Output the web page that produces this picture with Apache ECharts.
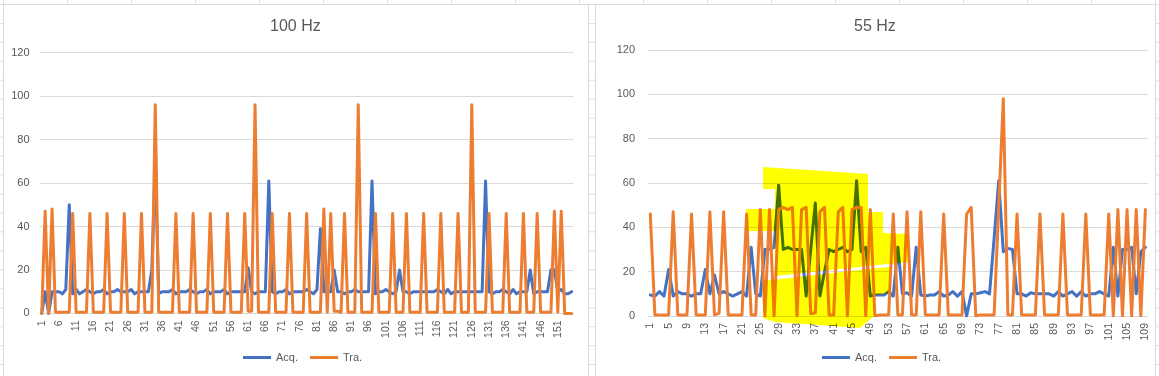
<!DOCTYPE html>
<html><head><meta charset="utf-8">
<script src="https://cdn.jsdelivr.net/npm/echarts@6/dist/echarts.min.js"></script>
<style>html,body{margin:0;padding:0;background:#fff}#c{width:1159px;height:376px}</style>
</head><body><div id="c"></div>
<script>
// ---------- DATA ----------
const leftTitle = '100 Hz';
const rightTitle = '55 Hz';
const seriesNames = ['Acq.', 'Tra.'];
const yTickValues = [0, 20, 40, 60, 80, 100, 120];

const leftAcq = [
  0, 10, 0, 10, 10, 10, 9, 11, 50, 9,
  11, 9, 10, 11, 10, 9, 10, 10, 11, 9,
  10, 10, 11, 10, 10, 10, 11, 9, 10, 10,
  10, 10, 20, 70, 9, 10, 10, 10, 11, 9,
  10, 10, 10, 11, 10, 9, 10, 10, 11, 9,
  10, 10, 10, 11, 9, 10, 10, 10, 10, 10,
  21, 10, 9, 10, 10, 10, 61, 10, 9, 10,
  10, 11, 9, 10, 10, 10, 10, 11, 10, 9,
  11, 39, 10, 10, 10, 20, 10, 10, 9, 10,
  10, 11, 10, 10, 10, 10, 61, 9, 10, 10,
  11, 10, 9, 10, 20, 10, 10, 9, 10, 10,
  10, 10, 10, 10, 10, 11, 10, 9, 11, 9,
  10, 10, 10, 10, 10, 10, 10, 10, 10, 61,
  10, 9, 10, 10, 11, 10, 9, 11, 9, 10,
  10, 10, 20, 9, 10, 10, 10, 10, 20, 20,
  10, 11, 9, 9, 10
];
const leftTra = [
  0, 47, 0, 48, 0.5, 0.5, 0.5, 0.5, 0.5, 46,
  0.5, 0.5, 0.5, 0.5, 46, 0.5, 0.5, 0.5, 0.5, 46,
  0.5, 0.5, 0.5, 0.5, 46, 0.5, 0.5, 0.5, 0.5, 46,
  0.5, 0.5, 0.5, 96, 0.5, 0.5, 0.5, 0.5, 0.5, 46,
  0.5, 0.5, 0.5, 0.5, 46, 0.5, 0.5, 0.5, 0.5, 46,
  0.5, 0.5, 0.5, 0.5, 46, 0.5, 0.5, 0.5, 0.5, 46,
  1, 1, 96, 0.5, 0.5, 0.5, 0.5, 46, 0.5, 0.5,
  0.5, 0.5, 46, 0.5, 0.5, 0.5, 0.5, 46, 0.5, 0.5,
  0.5, 0.5, 48, 0.5, 46, 1, 1, 0.5, 46, 0.5,
  0.5, 0.5, 96, 0.5, 0.5, 0.5, 0.5, 46, 0.5, 0.5,
  0.5, 0.5, 46, 0.5, 0.5, 0.5, 46, 0.5, 0.5, 0.5,
  0.5, 46, 0.5, 0.5, 0.5, 0.5, 46, 0.5, 0.5, 0.5,
  0.5, 46, 0.5, 0.5, 0.5, 96, 0.5, 0.5, 0.5, 0.5,
  46, 0.5, 0.5, 0.5, 0.5, 46, 0.5, 0.5, 0.5, 0.5,
  46, 0.5, 0.5, 0.5, 46, 0.5, 0.5, 0.5, 0.5, 47,
  0.5, 47, 0, 0, 0
];
const rightAcq = [
  9.5, 9, 11, 9, 21, 9, 11, 10, 10, 9,
  10, 10, 21, 10, 18.5, 10, 11, 10, 9, 10,
  11, 9, 31, 10, 9, 30, 30, 31, 59, 30,
  31, 30, 30, 30, 9, 30, 51, 9, 20, 30,
  29, 30, 31, 29, 30, 61, 29, 31, 9, 9.5,
  9.5, 9.5, 11, 9, 31, 10, 10.5, 9, 31, 9.5,
  9, 9.5, 9.5, 11, 9, 9.5, 11, 9, 11, 0,
  10, 10, 10.5, 11, 10, 35, 61, 29, 30.5, 30,
  10, 10, 9, 10.5, 10, 10, 10, 10, 9, 11,
  9, 10, 11, 9, 11, 9, 10, 10, 11, 10,
  9, 31, 9, 30, 30, 31, 10, 29, 31
];
const rightTra = [
  46, 0.5, 0.5, 0.5, 0.5, 47, 0.5, 0.5, 0.5, 46,
  0.5, 0.5, 0.5, 47, 0.5, 1.2, 47, 0.5, 0.5, 0.5,
  0.5, 46, 0.5, 0.5, 48, 0, 48, 0, 48, 49,
  48, 49, 0, 48, 49, 1, 1.5, 47, 49, 0.5,
  0.5, 47, 49, 0, 48, 49, 49, 0, 48, 0,
  0.5, 0.5, 0.5, 46, 0.5, 0.5, 47, 0.5, 0.5, 47,
  0.5, 0.5, 0.5, 0.5, 46, 0.5, 0.5, 0.5, 0.5, 46,
  49, 0, 0.5, 0.5, 0.5, 0.5, 49, 98, 0.5, 0.5,
  46, 0.5, 0.5, 0.5, 0.5, 46, 0.5, 0.5, 0.5, 0.5,
  46, 0.5, 0.5, 0.5, 0.5, 46, 0.5, 0.5, 0.5, 0.5,
  46, 0, 48, 0, 48, 0, 48, 0, 48
];
// category labels are the row numbers 1..N
const leftCats = leftAcq.map((_, i) => String(i + 1));
const rightCats = rightAcq.map((_, i) => String(i + 1));

// ---------- STYLE / LAYOUT ----------
const FONT = 'Liberation Sans';
const TXT = '#595959';
const GRIDC = '#d9d9d9';
const BLUE = '#4472C4';
const ORANGE = '#ED7D31';

// hand-drawn yellow highlighter strokes on the right chart (pixel shapes)
const highlightShapes = [
  [[763,167],[868,174],[868,212],[883,212],[883,233],[908,234],[908,262],[868,266],[775,276],[775,189],[763,189]],
  [[746,209],[775,209],[775,231],[746,231]],
  [[763,281],[868,269],[890,267],[890,293],[874,295],[874,316],[860,328],[775,322],[763,318]]
];

const chart = echarts.init(document.getElementById('c'), null, {renderer: 'canvas'});

function xAxisCfg(gi, cats, interval) {
  return {
    type: 'category', gridIndex: gi, data: cats, boundaryGap: true,
    axisLine: {show: true, lineStyle: {color: GRIDC, width: 1}},
    axisTick: {show: false},
    axisLabel: {interval: interval, rotate: 90, margin: 7, color: TXT, fontSize: 10.5, fontFamily: FONT},
    splitLine: {show: false}
  };
}
function yAxisCfg(gi, margin) {
  return {
    type: 'value', gridIndex: gi, min: yTickValues[0], max: yTickValues[yTickValues.length - 1],
    interval: yTickValues[1] - yTickValues[0],
    axisLine: {show: false}, axisTick: {show: false},
    axisLabel: {color: TXT, fontSize: 11, fontFamily: FONT, margin: margin},
    splitLine: {show: true, lineStyle: {color: GRIDC, width: 1}}
  };
}
function lineSeries(name, xi, data, color, z) {
  return {
    type: 'line', name: name, xAxisIndex: xi, yAxisIndex: xi, data: data,
    symbol: 'none', showSymbol: false, z: z,
    lineStyle: {color: color, width: 3, join: 'round', cap: 'round'},
    itemStyle: {color: color},
    emphasis: {disabled: true}
  };
}

// spreadsheet background
const bg = [];
for (let k = 0; k < 20; k++) {
  const y = 4.5 + 18.95 * k;
  bg.push({type: 'line', z: -20, silent: true, shape: {x1: 0, y1: y, x2: 1159, y2: y}, style: {stroke: '#e1e1e1', lineWidth: 1}});
}
for (let k = 0; k < 19; k++) {
  const x = 3.5 + 64 * k;
  bg.push({type: 'line', z: -20, silent: true, shape: {x1: x, y1: 0, x2: x, y2: 376}, style: {stroke: '#e1e1e1', lineWidth: 1}});
}
bg.push({type: 'rect', z: -10, silent: true, shape: {x: 3.5, y: 4.5, width: 585, height: 400}, style: {fill: '#fff', stroke: GRIDC, lineWidth: 1}});
bg.push({type: 'rect', z: -10, silent: true, shape: {x: 595.5, y: 4.5, width: 560, height: 400}, style: {fill: '#fff', stroke: GRIDC, lineWidth: 1}});

const hl = highlightShapes.map(pts => ({
  type: 'polygon', z: 100, silent: true,
  shape: {points: pts},
  style: {fill: '#ffff00', blend: 'multiply'}
}));

const titleStyle = {color: TXT, fontSize: 16, fontWeight: 'normal', fontFamily: FONT};
const legendBase = {
  data: seriesNames, icon: 'rect', itemWidth: 28, itemHeight: 3, itemGap: 12, top: 352,
  textStyle: {color: TXT, fontSize: 11, fontFamily: FONT}, selectedMode: false, padding: 0
};

chart.setOption({
  animation: false,
  backgroundColor: '#ffffff',
  textStyle: {fontFamily: FONT},
  title: [
    {text: leftTitle, left: 270, top: 19, padding: 0, textStyle: titleStyle},
    {text: rightTitle, left: 854, top: 19, padding: 0, textStyle: titleStyle}
  ],
  legend: [
    Object.assign({}, legendBase, {left: 243}),
    Object.assign({}, legendBase, {left: 822})
  ],
  grid: [
    {left: 40, right: 1159 - 573.3, top: 52.7, bottom: 376 - 313.4, containLabel: false, outerBoundsMode: 'none'},
    {left: 648, right: 1159 - 1147.7, top: 50, bottom: 376 - 316, containLabel: false, outerBoundsMode: 'none'}
  ],
  xAxis: [xAxisCfg(0, leftCats, 4), xAxisCfg(1, rightCats, 3)],
  yAxis: [yAxisCfg(0, 10.5), yAxisCfg(1, 13)],
  series: [
    lineSeries(seriesNames[0], 0, leftAcq, BLUE, 2),
    lineSeries(seriesNames[1], 0, leftTra, ORANGE, 3),
    lineSeries(seriesNames[0], 1, rightAcq, BLUE, 2),
    lineSeries(seriesNames[1], 1, rightTra, ORANGE, 3)
  ],
  graphic: {elements: bg.concat(hl)}
});
</script>
</body></html>
